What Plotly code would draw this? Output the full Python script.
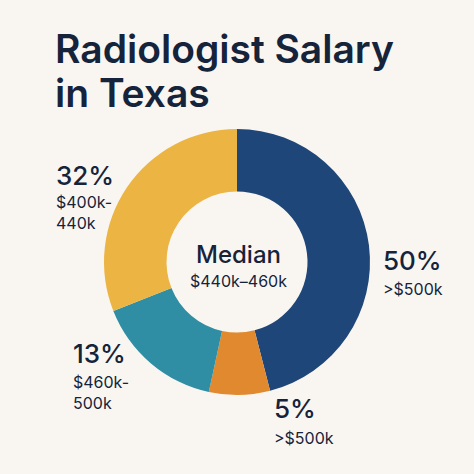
import plotly.graph_objects as go

W, H = 474, 474

# slice shares as drawn (clockwise from 12 o'clock)
segments = ['>$500k', '>$500k (5%)', '$460k-500k', '$400k-440k']
shares = [46, 7.4, 15.6, 31]
colors = ['#1f4679', '#e0892e', '#2f8ea3', '#ebb443']

pct_labels = ['50%', '5%', '13%', '32%']
range_labels = ['&gt;$500k', '&gt;$500k', '$460k-<br>500k', '$400k-<br>440k']
# label anchor (left edge x, centre y of % text, centre y of range text), in pixels
label_pos = [(381, 260, 289), (272, 408, 438), (71, 353, 392), (54, 175, 213)]

title_lines = ['Radiologist Salary', 'in Texas']

BG = '#f9f6f1'
INK = '#15233b'
FONT = 'Inter'

cx, cy, r = 237, 262, 133

fig = go.Figure(go.Pie(
    values=shares,
    labels=segments,
    marker=dict(colors=colors, line=dict(width=0)),
    hole=0.53,
    sort=False,
    direction='clockwise',
    rotation=0,
    textinfo='none',
    hoverinfo='label+percent',
    domain=dict(x=[(cx - r) / W, (cx + r) / W],
                y=[1 - (cy + r) / H, 1 - (cy - r) / H]),
    showlegend=False,
))

def px_x(v):
    return v / W

def px_y(v):
    return 1 - v / H

annotations = [
    dict(text='Median', x=px_x(238), y=px_y(254),
         xanchor='center', yanchor='middle',
         font=dict(family=FONT, size=24, color=INK, weight=500)),
    dict(text='$440k–460k', x=px_x(238), y=px_y(281),
         xanchor='center', yanchor='middle',
         font=dict(family=FONT, size=16, color=INK)),
]

# title, one annotation per line to get the tighter line spacing
for line, ty in zip(title_lines, [49, 93]):
    annotations.append(dict(text=line, x=px_x(53), y=px_y(ty),
                            xanchor='left', yanchor='middle', align='left',
                            font=dict(family=FONT, size=39, color=INK, weight=600)))

for pct, rng, (lx, py1, py2) in zip(pct_labels, range_labels, label_pos):
    annotations.append(dict(text=pct, x=px_x(lx), y=px_y(py1),
                            xanchor='left', yanchor='middle', align='left',
                            font=dict(family=FONT, size=26, color=INK, weight=500)))
    annotations.append(dict(text=rng, x=px_x(lx), y=px_y(py2),
                            xanchor='left', yanchor='middle', align='left',
                            font=dict(family=FONT, size=16, color=INK)))

for a in annotations:
    a.update(xref='paper', yref='paper', showarrow=False)

fig.update_layout(
    width=W, height=H,
    margin=dict(l=0, r=0, t=0, b=0),
    paper_bgcolor=BG,
    plot_bgcolor=BG,
    annotations=annotations,
)

# drop the default page margin so the figure fills the window
fig.write_html('out.html', config={'displayModeBar': False},
               post_script="document.body.style.margin='0';")
